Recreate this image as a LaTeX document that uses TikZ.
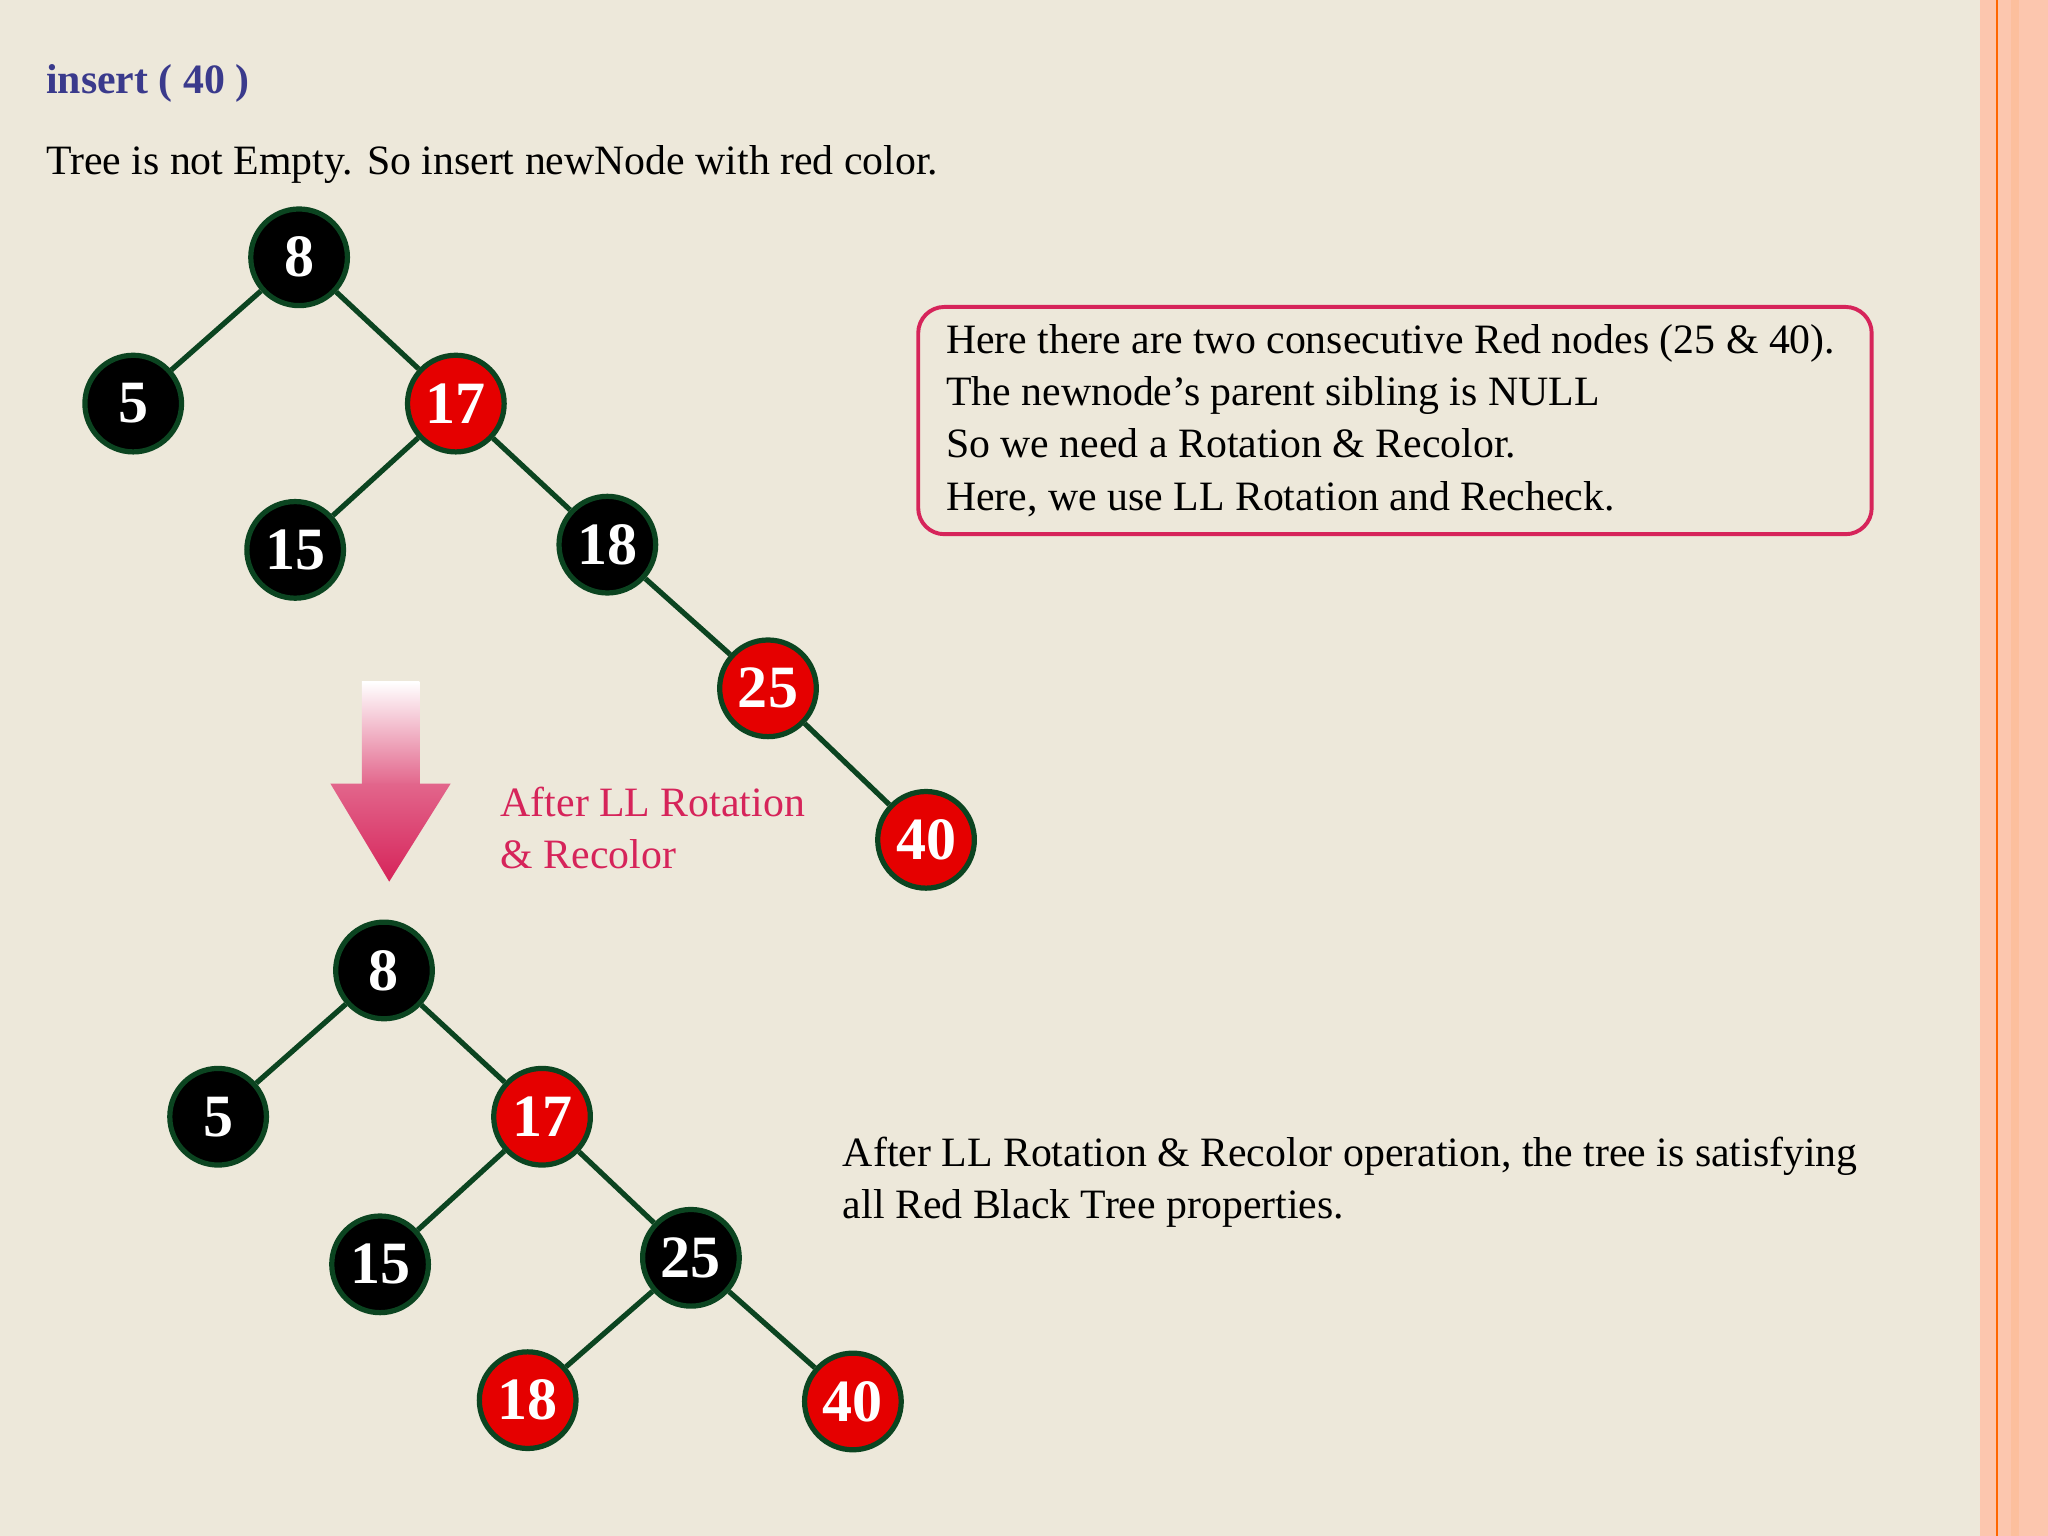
\documentclass[tikz,border=0pt]{standalone}
\usepackage{fontspec}
\setmainfont{Liberation Serif}
\begin{document}
\begin{tikzpicture}[x=0.5pt,y=-0.5pt,
  rb/.style={circle,draw=edgec,line width=2pt,minimum size=37pt,inner sep=0pt,text=white,font=\bfseries\fontsize{23}{23}\selectfont},
  bn/.style={rb,fill=black},
  rn/.style={rb,fill=red!90!black},
  ed/.style={draw=edgec,line width=2pt},
  txt/.style={anchor=west,inner sep=0pt,font=\fontsize{16}{16}\selectfont}]
\definecolor{edgec}{HTML}{0B4420}
\definecolor{bg}{HTML}{EDE8DA}
\definecolor{peach}{HTML}{FCC6AE}
\definecolor{crim}{HTML}{D6245A}
\definecolor{navy}{HTML}{3A3A8C}
\fill[bg] (0,0) rectangle (1568,1176);
\useasboundingbox (0,0) rectangle (1568,1176);
\fill[peach] (1516,0) rectangle (1568,1176);
\fill[peach!90!orange] (1540,0) rectangle (1546,1176);
\draw[orange!80!red,line width=1pt] (1529,0) -- (1529,1176);
\node[txt,text=navy,font=\bfseries\fontsize{16}{16}\selectfont] (title) at (35,64) {insert ( 40 )};
\node[txt] (line) at (35,126) {Tree is not Empty. So insert newNode with red color.};
% top tree
\node[bn] (a8) at (229,197) {8};
\node[bn] (a5) at (102,309) {5};
\node[rn] (a17) at (349,309) {17};
\node[bn] (a15) at (226,421) {15};
\node[bn] (a18) at (465,417) {18};
\node[rn] (a25) at (588,527) {25};
\node[rn] (a40) at (709,643) {40};
\draw[ed] (a8)--(a5) (a8)--(a17) (a17)--(a15) (a17)--(a18) (a18)--(a25) (a25)--(a40);
% box
\draw[crim,line width=1.5pt,rounded corners=10pt] (703,235) rectangle (1433,409);
\node[txt,anchor=north west,align=left,font=\fontsize{16}{20}\selectfont] (box) at (724,248)
{Here there are two consecutive Red nodes (25 \& 40).\\The newnode’s parent sibling is NULL\\So we need a Rotation \& Recolor.\\Here, we use LL Rotation and Recheck.};
% arrow
\shade[top color=white,bottom color=crim!70] (277,522) rectangle (321,601);
\shade[top color=crim!70,bottom color=crim] (253,600) -- (345,600) -- (298,675) -- cycle;
\node[txt,text=crim,align=left,anchor=north west,font=\fontsize{16}{20}\selectfont] (lab) at (383,602) {After LL Rotation\\\& Recolor};
% bottom tree
\node[bn] (b8) at (294,743) {8};
\node[bn] (b5) at (167,855) {5};
\node[rn] (b17) at (415,855) {17};
\node[bn] (b15) at (291,968) {15};
\node[bn] (b25) at (529,963) {25};
\node[rn] (b18) at (404,1072) {18};
\node[rn] (b40) at (653,1073) {40};
\draw[ed] (b8)--(b5) (b8)--(b17) (b17)--(b15) (b17)--(b25) (b25)--(b18) (b25)--(b40);
\node[txt,align=left,anchor=north west,font=\fontsize{16}{20}\selectfont] (res) at (645,870)
{After LL Rotation \& Recolor operation, the tree is satisfying\\all Red Black Tree properties.};
\end{tikzpicture}
\end{document}
